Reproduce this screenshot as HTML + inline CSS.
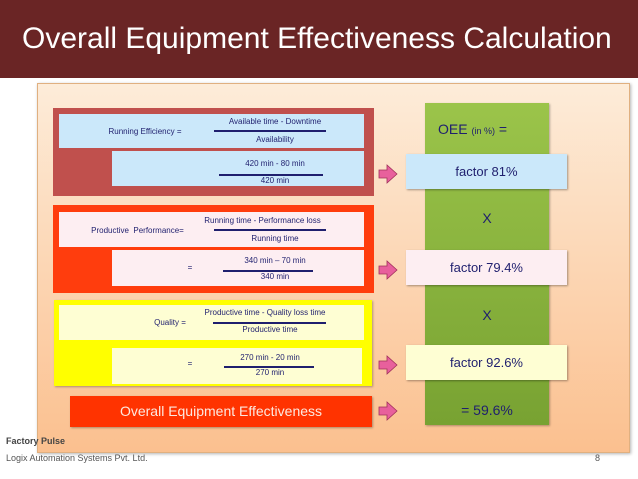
<!DOCTYPE html>
<html><head><meta charset="utf-8"><style>
*{margin:0;padding:0;box-sizing:border-box}
body{width:638px;height:479px;background:#fff;font-family:"Liberation Sans",sans-serif;position:relative;overflow:hidden}
.a{position:absolute}
.t{color:#1f1f6e;font-size:8px;text-align:center;white-space:nowrap}
.fb{position:absolute;left:406px;width:161px;height:35px;box-shadow:1px 1px 2px rgba(0,0,0,.35);color:#1f1f6e;font-size:13px;line-height:35px;text-align:center}
.arr{position:absolute;left:378px;width:20px;height:20px}
</style></head><body>
<div class="a" style="left:0;top:0;width:638px;height:78px;background:#6a2525"></div>
<div class="a" style="left:22px;top:22px;color:#fff;font-size:30px;white-space:nowrap">Overall Equipment Effectiveness Calculation</div>
<div class="a" style="left:37px;top:83px;width:593px;height:370px;background:linear-gradient(#fdecd9,#fbc08f);border:1px solid #e0b080;box-shadow:1px 1px 3px rgba(0,0,0,.3)"></div>

<!-- group 1 -->
<div class="a" style="left:53px;top:108px;width:321px;height:88px;background:#c0504d"></div>
<div class="a" style="left:59px;top:114px;width:305px;height:34px;background:#cbe8fa"></div>
<div class="a t" style="left:100px;top:127px;width:90px">Running Efficiency =</div>
<div class="a t" style="left:210px;top:117px;width:130px">Available time - Downtime</div>
<div class="a" style="left:214px;top:130px;width:112px;height:2px;background:#1f1f6e"></div>
<div class="a t" style="left:210px;top:135px;width:130px">Availability</div>
<div class="a" style="left:112px;top:151px;width:252px;height:35px;background:#cbe8fa"></div>
<div class="a t" style="left:210px;top:159px;width:130px">420 min - 80 min</div>
<div class="a" style="left:219px;top:174px;width:104px;height:2px;background:#1f1f6e"></div>
<div class="a t" style="left:210px;top:176px;width:130px">420 min</div>

<!-- group 2 -->
<div class="a" style="left:53px;top:205px;width:321px;height:88px;background:#ff3d0d"></div>
<div class="a" style="left:59px;top:212px;width:305px;height:35px;background:#fdeef2"></div>
<div class="a t" style="left:80px;top:226px;width:115px">Productive&nbsp; Performance=</div>
<div class="a t" style="left:195px;top:216px;width:135px">Running time - Performance loss</div>
<div class="a" style="left:214px;top:229px;width:112px;height:2px;background:#1f1f6e"></div>
<div class="a t" style="left:210px;top:234px;width:130px">Running time</div>
<div class="a" style="left:112px;top:250px;width:252px;height:36px;background:#fdeef2"></div>
<div class="a t" style="left:185px;top:263px;width:10px">=</div>
<div class="a t" style="left:210px;top:256px;width:130px">340 min – 70 min</div>
<div class="a" style="left:223px;top:270px;width:90px;height:2px;background:#1f1f6e"></div>
<div class="a t" style="left:210px;top:272px;width:130px">340 min</div>

<!-- group 3 -->
<div class="a" style="left:54px;top:300px;width:318px;height:86px;background:#ffff00;box-shadow:1px 1px 2px rgba(0,0,0,.3)"></div>
<div class="a" style="left:59px;top:305px;width:305px;height:35px;background:#fefed3"></div>
<div class="a t" style="left:140px;top:318px;width:60px">Quality =</div>
<div class="a t" style="left:195px;top:308px;width:140px">Productive time - Quality loss time</div>
<div class="a" style="left:213px;top:322px;width:113px;height:2px;background:#1f1f6e"></div>
<div class="a t" style="left:205px;top:325px;width:130px">Productive time</div>
<div class="a" style="left:112px;top:348px;width:250px;height:36px;background:#fefed3"></div>
<div class="a t" style="left:185px;top:359px;width:10px">=</div>
<div class="a t" style="left:205px;top:353px;width:130px">270 min - 20 min</div>
<div class="a" style="left:224px;top:366px;width:90px;height:2px;background:#1f1f6e"></div>
<div class="a t" style="left:205px;top:368px;width:130px">270 min</div>

<div class="a" style="left:70px;top:396px;width:302px;height:31px;background:#ff3300;box-shadow:1px 1px 2px rgba(0,0,0,.3);color:#fde9e0;font-size:14px;line-height:31px;text-align:center">Overall Equipment Effectiveness</div>

<!-- green column -->
<div class="a" style="left:425px;top:103px;width:124px;height:322px;background:linear-gradient(#9bc44a,#78a232);box-shadow:1px 1px 2px rgba(0,0,0,.3)"></div>
<div class="a" style="left:438px;top:121px;color:#1f1f6e;font-size:14px;white-space:nowrap">OEE <span style="font-size:9px">(in %)</span> =</div>
<div class="fb" style="top:154px;background:#cbe8fa">factor 81%</div>
<div class="a" style="left:425px;top:210px;width:124px;text-align:center;color:#1f1f6e;font-size:14px">X</div>
<div class="fb" style="top:250px;background:#fdeef2">factor 79.4%</div>
<div class="a" style="left:425px;top:307px;width:124px;text-align:center;color:#1f1f6e;font-size:14px">X</div>
<div class="fb" style="top:345px;background:#fefed3">factor 92.6%</div>
<div class="a" style="left:425px;top:402px;width:124px;text-align:center;color:#1f1f6e;font-size:14px">= 59.6%</div>

<svg class="arr" style="top:164px" viewBox="0 0 20 20"><path d="M1 6H9V1L19 10L9 19V14H1Z" fill="#e8609c" stroke="#a0305a" stroke-width=".8"/></svg>
<svg class="arr" style="top:260px" viewBox="0 0 20 20"><path d="M1 6H9V1L19 10L9 19V14H1Z" fill="#e8609c" stroke="#a0305a" stroke-width=".8"/></svg>
<svg class="arr" style="top:355px" viewBox="0 0 20 20"><path d="M1 6H9V1L19 10L9 19V14H1Z" fill="#e8609c" stroke="#a0305a" stroke-width=".8"/></svg>
<svg class="arr" style="top:401px" viewBox="0 0 20 20"><path d="M1 6H9V1L19 10L9 19V14H1Z" fill="#e8609c" stroke="#a0305a" stroke-width=".8"/></svg>

<div class="a" style="left:6px;top:436px;font-size:9px;font-weight:bold;color:#444">Factory Pulse</div>
<div class="a" style="left:6px;top:453px;font-size:9px;color:#555">Logix Automation Systems Pvt. Ltd.</div>
<div class="a" style="left:595px;top:453px;font-size:9px;color:#555">8</div>
</body></html>
